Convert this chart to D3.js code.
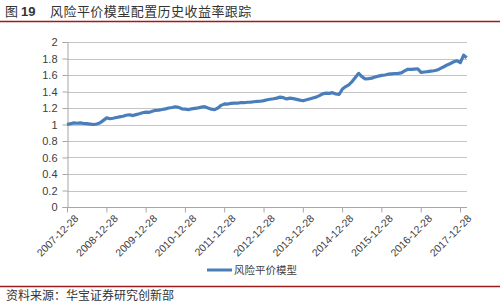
<!DOCTYPE html>
<html>
<head>
<meta charset="utf-8">
<script src="https://cdn.jsdelivr.net/npm/d3@7"></script>
<style>
  body { margin: 0; background: #fff; }
  svg { display: block; font-family: "Liberation Sans", Arial, sans-serif; }
</style>
</head>
<body>
<script>
'use strict';

// chart texts
let titleText = "图 19";
let titleCn = "风险平价模型配置历史收益率跟踪";
let seriesName = "风险平价模型";
let sourceText = "资料来源：华宝证券研究创新部";

// axis ticks
let yTicks = [0, 0.2, 0.4, 0.6, 0.8, 1, 1.2, 1.4, 1.6, 1.8, 2];
let xTickLabels = ["2007-12-28", "2008-12-28", "2009-12-28", "2010-12-28", "2011-12-28",
  "2012-12-28", "2013-12-28", "2014-12-28", "2015-12-28", "2016-12-28", "2017-12-28"];

// first point of the series, then one value per month end
let startDate = "2007-12-28";
let startValue = 1.00;
let values = [
  1.01, 1.02, 1.015, 1.02, 1.012, 1.01, 1.005, 1.0, 1.006, 1.02, 1.05, 1.08,        // 2008
  1.07, 1.076, 1.085, 1.092, 1.1, 1.112, 1.118, 1.108, 1.12, 1.13, 1.142, 1.15,      // 2009
  1.148, 1.16, 1.172, 1.175, 1.182, 1.19, 1.2, 1.206, 1.215, 1.208, 1.19, 1.186,     // 2010
  1.18, 1.19, 1.196, 1.202, 1.21, 1.216, 1.2, 1.186, 1.18, 1.2, 1.232, 1.25,         // 2011
  1.248, 1.256, 1.26, 1.258, 1.266, 1.264, 1.27, 1.272, 1.276, 1.28, 1.282, 1.29,    // 2012
  1.3, 1.306, 1.312, 1.32, 1.332, 1.325, 1.31, 1.32, 1.314, 1.305, 1.296, 1.288,     // 2013
  1.3, 1.31, 1.322, 1.332, 1.35, 1.372, 1.38, 1.378, 1.386, 1.37, 1.364, 1.43,       // 2014
  1.46, 1.48, 1.52, 1.57, 1.62, 1.58, 1.552, 1.556, 1.562, 1.575, 1.586, 1.596,      // 2015
  1.6, 1.61, 1.614, 1.618, 1.62, 1.626, 1.65, 1.67, 1.668, 1.672, 1.676, 1.632,      // 2016
  1.636, 1.64, 1.646, 1.652, 1.66, 1.68, 1.7, 1.722, 1.74, 1.76, 1.772, 1.75,        // 2017
  1.84, 1.81                                                                         // 2018
];

let width = 500, height = 306;
let plot = { left: 67, right: 467, top: 42, bottom: 207 };

let parseDate = d3.timeParse("%Y-%m-%d");
let svgContainer;

window.onload = function () {
  svgContainer = d3.select("body")
    .append("svg")
    .attr("width", width)
    .attr("height", height);

  let data = buildData();
  let scales = drawAxes();
  drawLine(data, scales);
  drawLabels();
}

// pairs the values with month-end dates
function buildData() {
  let first = parseDate(startDate);
  let data = [{ date: first, value: startValue }];
  for (let i = 0; i < values.length; i++) {
    let monthStart = new Date(2008, i, 1);
    let end = d3.timeDay.offset(d3.timeMonth.offset(monthStart, 1), -1);
    data.push({ date: end, value: values[i] });
  }
  return data;
}

function drawAxes() {
  let tickDates = xTickLabels.map(parseDate);

  let xScale = d3.scaleTime()
    .domain([tickDates[0], tickDates[tickDates.length - 1]])
    .range([plot.left, 460]);

  let yScale = d3.scaleLinear()
    .domain([0, 2])
    .range([plot.bottom, plot.top]);

  // horizontal grid lines
  svgContainer.append("g")
    .selectAll("line")
    .data(yTicks.filter(d => d > 0))
    .enter()
    .append("line")
    .attr("x1", plot.left)
    .attr("x2", plot.right)
    .attr("y1", d => Math.round(yScale(d)) + 0.5)
    .attr("y2", d => Math.round(yScale(d)) + 0.5)
    .style("stroke", "#c4c4c4")
    .style("stroke-width", 1.2);

  // y axis
  let yAxis = d3.axisLeft(yScale)
    .tickValues(yTicks)
    .tickSize(5)
    .tickPadding(5)
    .tickFormat(d => String(+d.toFixed(1)));

  let gy = svgContainer.append("g")
    .attr("transform", "translate(" + (plot.left + 0.5) + ",0)")
    .call(yAxis);
  gy.select(".domain").style("stroke", "#a6a6a6");
  gy.selectAll(".tick line").style("stroke", "#a6a6a6");
  gy.selectAll(".tick text")
    .style("font-size", "11px")
    .style("fill", "#404040");

  // x axis
  let xAxis = d3.axisBottom(xScale)
    .tickValues(tickDates)
    .tickSize(5)
    .tickFormat(d3.timeFormat("%Y-%m-%d"));

  let gx = svgContainer.append("g")
    .attr("transform", "translate(0," + (plot.bottom + 0.5) + ")")
    .call(xAxis);
  gx.select(".domain")
    .attr("d", "M" + plot.left + ",0H" + plot.right)
    .style("stroke", "#a6a6a6");
  gx.selectAll(".tick line").style("stroke", "#a6a6a6");
  gx.selectAll(".tick text")
    .style("font-size", "10.5px")
    .style("fill", "#404040")
    .style("text-anchor", "end")
    .attr("dy", "0")
    .attr("transform", "translate(6,6) rotate(-45)");

  return { xScale: xScale, yScale: yScale };
}

function drawLine(data, scales) {
  let line = d3.line()
    .x(d => scales.xScale(d.date))
    .y(d => scales.yScale(d.value));

  svgContainer.append("path")
    .datum(data)
    .attr("d", line)
    .style("fill", "none")
    .style("stroke", "#4a7ebb")
    .style("stroke-width", 3.2)
    .style("stroke-linejoin", "round");
}

// title, legend, rules and source
function drawLabels() {
  let title = svgContainer.append("text")
    .attr("x", 5)
    .attr("y", 16)
    .style("fill", "#333")
    .style("font-size", "13px");
  title.append("tspan")
    .style("font-family", "'Noto Sans CJK SC', sans-serif")
    .text(titleText.split(" ")[0]);
  title.append("tspan")
    .attr("x", 21)
    .style("font-family", "'Liberation Sans', Arial, sans-serif")
    .style("font-weight", "bold")
    .style("font-size", "13px")
    .text(titleText.split(" ")[1]);
  title.append("tspan")
    .attr("x", 50)
    .style("font-family", "'Noto Sans CJK SC', sans-serif")
    .style("letter-spacing", "0.45px")
    .text(titleCn);

  svgContainer.append("line")
    .attr("x1", 0).attr("x2", width)
    .attr("y1", 21.5).attr("y2", 21.5)
    .style("stroke", "#9e1b1b")
    .style("stroke-width", 1.5);

  // legend
  svgContainer.append("line")
    .attr("x1", 207).attr("x2", 232)
    .attr("y1", 270).attr("y2", 270)
    .style("stroke", "#4a7ebb")
    .style("stroke-width", 3);
  svgContainer.append("text")
    .attr("x", 234)
    .attr("y", 274)
    .style("font-family", "'Noto Sans CJK SC', sans-serif")
    .style("font-size", "10.5px")
    .style("fill", "#404040")
    .text(seriesName);

  svgContainer.append("line")
    .attr("x1", 0).attr("x2", width)
    .attr("y1", 286.5).attr("y2", 286.5)
    .style("stroke", "#9e1b1b")
    .style("stroke-width", 1.5);

  svgContainer.append("text")
    .attr("x", 6)
    .attr("y", 300)
    .style("font-family", "'Noto Sans CJK SC', sans-serif")
    .style("font-size", "12px")
    .style("fill", "#333")
    .text(sourceText);
}
</script>
</body>
</html>
